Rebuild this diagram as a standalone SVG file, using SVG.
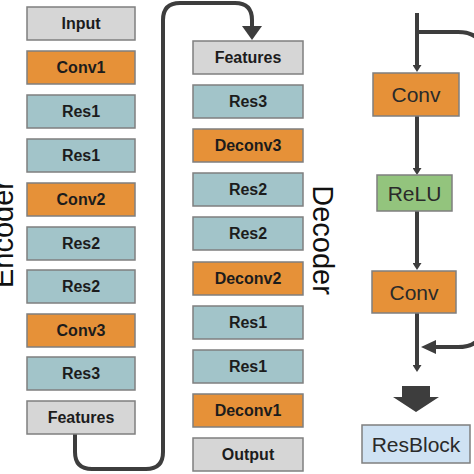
<svg xmlns="http://www.w3.org/2000/svg" width="474" height="474" viewBox="0 0 474 474">
<defs>
<style>
.b{stroke:#7f7f7f;stroke-width:1.5}
.gray{fill:#d6d6d6}
.org{fill:#e69138}
.teal{fill:#a2c4c9}
.grn{fill:#93c47d}
.blu{fill:#cfe2f3}
.t{font-family:"Liberation Sans",Arial,sans-serif;font-weight:bold;font-size:16px;fill:#1c1c1c;text-anchor:middle;dominant-baseline:central}
.tr{font-family:"Liberation Sans",Arial,sans-serif;font-size:21px;fill:#2a2a2a;text-anchor:middle;dominant-baseline:central}
.lab{font-family:"Liberation Sans",Arial,sans-serif;font-size:29px;fill:#111;text-anchor:middle}
.ln{fill:none;stroke:#3d3d3d;stroke-width:4}
</style>
<marker id="big" viewBox="0 0 14 20" refX="0" refY="10" markerWidth="14" markerHeight="20" markerUnits="userSpaceOnUse" orient="auto"><path d="M0,0 L14,10 L0,20 z" fill="#3d3d3d"/></marker>
<marker id="med" viewBox="0 0 15 14" refX="0" refY="7" markerWidth="15" markerHeight="14" markerUnits="userSpaceOnUse" orient="auto"><path d="M0,0 L15,7 L0,14 z" fill="#3d3d3d"/></marker>
<marker id="sm" viewBox="0 0 7 9" refX="0" refY="4.5" markerWidth="7" markerHeight="9" markerUnits="userSpaceOnUse" orient="auto"><path d="M0,0 L7,4.5 L0,9 z" fill="#3d3d3d"/></marker>
</defs>
<rect width="474" height="474" fill="#ffffff"/>

<g id="connectors">
<path class="ln" d="M75,434 V452 Q75,469 92,469 H146 Q163,469 163,452 V20 Q163,3 180,3 H235 Q252,3 252,20 V26" marker-end="url(#big)"/>
<path class="ln" d="M417,13 V65" marker-end="url(#sm)"/>
<path class="ln" d="M417,116 V168" marker-end="url(#sm)"/>
<path class="ln" d="M417,211 V263" marker-end="url(#sm)"/>
<path class="ln" d="M417,313 V365" marker-end="url(#sm)"/>
<path class="ln" d="M417,32 H458 Q484,32 484,58 V321 Q484,347 458,347 H436" marker-end="url(#med)"/>
<polygon points="402,386 430,386 430,397 439,397 416,412 393,397 402,397" fill="#3d3d3d"/>
</g>

<text class="lab" transform="translate(13,234) rotate(-90)">Encoder</text>
<text class="lab" transform="translate(313,240) rotate(90)">Decoder</text>

<g id="enc-input"><rect class="b gray" x="27" y="7" width="108" height="33"/><text class="t" x="81" y="23.5">Input</text></g>
<g id="enc-conv1"><rect class="b org" x="27" y="51" width="108" height="33"/><text class="t" x="81" y="67.5">Conv1</text></g>
<g id="enc-res1a"><rect class="b teal" x="27" y="95" width="108" height="33"/><text class="t" x="81" y="111.5">Res1</text></g>
<g id="enc-res1b"><rect class="b teal" x="27" y="139" width="108" height="33"/><text class="t" x="81" y="155.5">Res1</text></g>
<g id="enc-conv2"><rect class="b org" x="27" y="183" width="108" height="33"/><text class="t" x="81" y="199.5">Conv2</text></g>
<g id="enc-res2a"><rect class="b teal" x="27" y="227" width="108" height="33"/><text class="t" x="81" y="243.5">Res2</text></g>
<g id="enc-res2b"><rect class="b teal" x="27" y="270" width="108" height="33"/><text class="t" x="81" y="286.5">Res2</text></g>
<g id="enc-conv3"><rect class="b org" x="27" y="314" width="108" height="33"/><text class="t" x="81" y="330.5">Conv3</text></g>
<g id="enc-res3"><rect class="b teal" x="27" y="357" width="108" height="33"/><text class="t" x="81" y="373.5">Res3</text></g>
<g id="enc-features"><rect class="b gray" x="27" y="401" width="108" height="33"/><text class="t" x="81" y="417.5">Features</text></g>

<g id="dec-features"><rect class="b gray" x="193" y="41" width="110" height="33"/><text class="t" x="248" y="57.5">Features</text></g>
<g id="dec-res3"><rect class="b teal" x="193" y="85" width="110" height="33"/><text class="t" x="248" y="101.5">Res3</text></g>
<g id="dec-deconv3"><rect class="b org" x="193" y="129" width="110" height="33"/><text class="t" x="248" y="145.5">Deconv3</text></g>
<g id="dec-res2a"><rect class="b teal" x="193" y="173" width="110" height="33"/><text class="t" x="248" y="189.5">Res2</text></g>
<g id="dec-res2b"><rect class="b teal" x="193" y="217" width="110" height="33"/><text class="t" x="248" y="233.5">Res2</text></g>
<g id="dec-deconv2"><rect class="b org" x="193" y="262" width="110" height="33"/><text class="t" x="248" y="278.5">Deconv2</text></g>
<g id="dec-res1a"><rect class="b teal" x="193" y="306" width="110" height="33"/><text class="t" x="248" y="322.5">Res1</text></g>
<g id="dec-res1b"><rect class="b teal" x="193" y="350" width="110" height="33"/><text class="t" x="248" y="366.5">Res1</text></g>
<g id="dec-deconv1"><rect class="b org" x="193" y="394" width="110" height="33"/><text class="t" x="248" y="410.5">Deconv1</text></g>
<g id="dec-output"><rect class="b gray" x="193" y="438" width="110" height="33"/><text class="t" x="248" y="454.5">Output</text></g>

<g id="rb-conv1"><rect class="b org" x="373" y="73" width="86" height="43"/><text class="tr" x="416" y="94.5">Conv</text></g>
<g id="rb-relu"><rect class="b grn" x="377" y="175" width="75" height="36"/><text class="tr" x="414.5" y="193">ReLU</text></g>
<g id="rb-conv2"><rect class="b org" x="372" y="271" width="84" height="42"/><text class="tr" x="414" y="292">Conv</text></g>
<g id="resblock"><rect class="b blu" x="362" y="425" width="108" height="38"/><text class="tr" x="416" y="444">ResBlock</text></g>
</svg>
